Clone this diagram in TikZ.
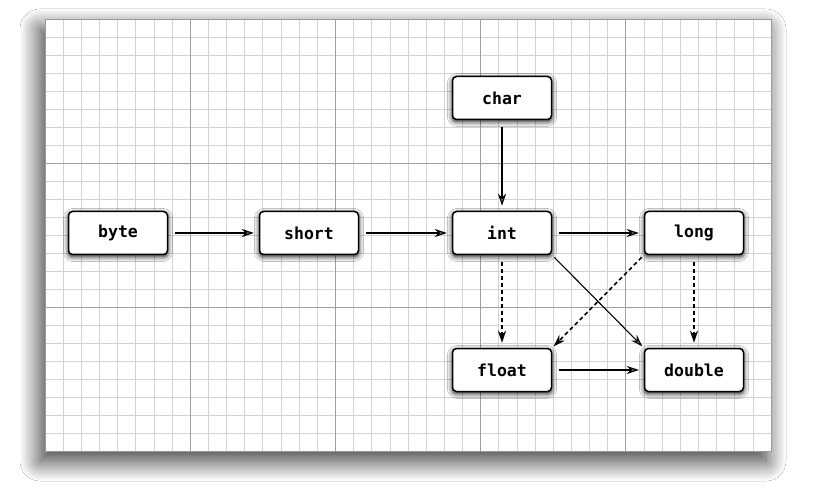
\documentclass[tikz,border=0pt]{standalone}
\usepackage{fontspec}
\newfontfamily\codefont{DejaVu Sans Mono}
\usetikzlibrary{arrows.meta,shadows.blur}
\tikzset{
  typebox/.style={draw=black,line width=1.5pt,rounded corners=4pt,fill=white,
    minimum width=99pt,minimum height=43pt,
    font=\codefont\bfseries\fontsize{16.5}{16.5}\selectfont,
    blur shadow={shadow xshift=0pt,shadow yshift=-2pt,shadow blur radius=5pt,shadow blur steps=8,shadow opacity=95}},
  widen/.style={->,line width=1.1pt,shorten <=7pt,shorten >=5pt},
  lossy/.style={widen,dash pattern=on 4pt off 3pt,line width=1.6pt}
}
\begin{document}
\begin{tikzpicture}[x=1pt,y=1pt,>={Stealth[length=12pt,width=8pt]}]
	\useasboundingbox (0,0) rectangle (818,498);
	\fill[white] (0,0) rectangle (818,498);
	% paper with grid
	\fill[white,blur shadow={shadow xshift=-5pt,shadow yshift=-10pt,shadow blur radius=20pt,shadow blur steps=20,shadow opacity=80}]
	(45,47) rectangle (771,479);
	\begin{scope}[shift={(45,47)}]
		\draw[xstep=18.15,ystep=18,gray!35,line width=0.7pt] (0,0) grid (726,432);
		\draw[xstep=145.2,ystep=144,gray!75,line width=0.8pt] (0,0) grid (726,432);
	\end{scope}
	\draw[gray!80,line width=0.8pt] (45,47) rectangle (771,479);
	% types
	\node[typebox] (byte) at (118,265) {byte};
	\node[typebox] (short) at (309,265) {short};
	\node[typebox] (int) at (502,265) {int};
	\node[typebox] (long) at (694,265) {long};
	\node[typebox] (char) at (502,400) {char};
	\node[typebox] (float) at (502,128) {float};
	\node[typebox] (double) at (694,128) {double};
	% conversions without loss
	\draw[widen] (byte) -- (short);
	\draw[widen] (short) -- (int);
	\draw[widen] (int) -- (long);
	\draw[widen] (char) -- (int);
	\draw[widen] (float) -- (double);
	\draw[widen,shorten <=3pt,shorten >=2pt] (int.south east) -- (double.north west);
	% conversions with loss of precision
	\draw[lossy] (int) -- (float);
	\draw[lossy] (long) -- (double);
	\draw[lossy,shorten <=3pt,shorten >=2pt] (long.south west) -- (float.north east);
\end{tikzpicture}
\end{document}
